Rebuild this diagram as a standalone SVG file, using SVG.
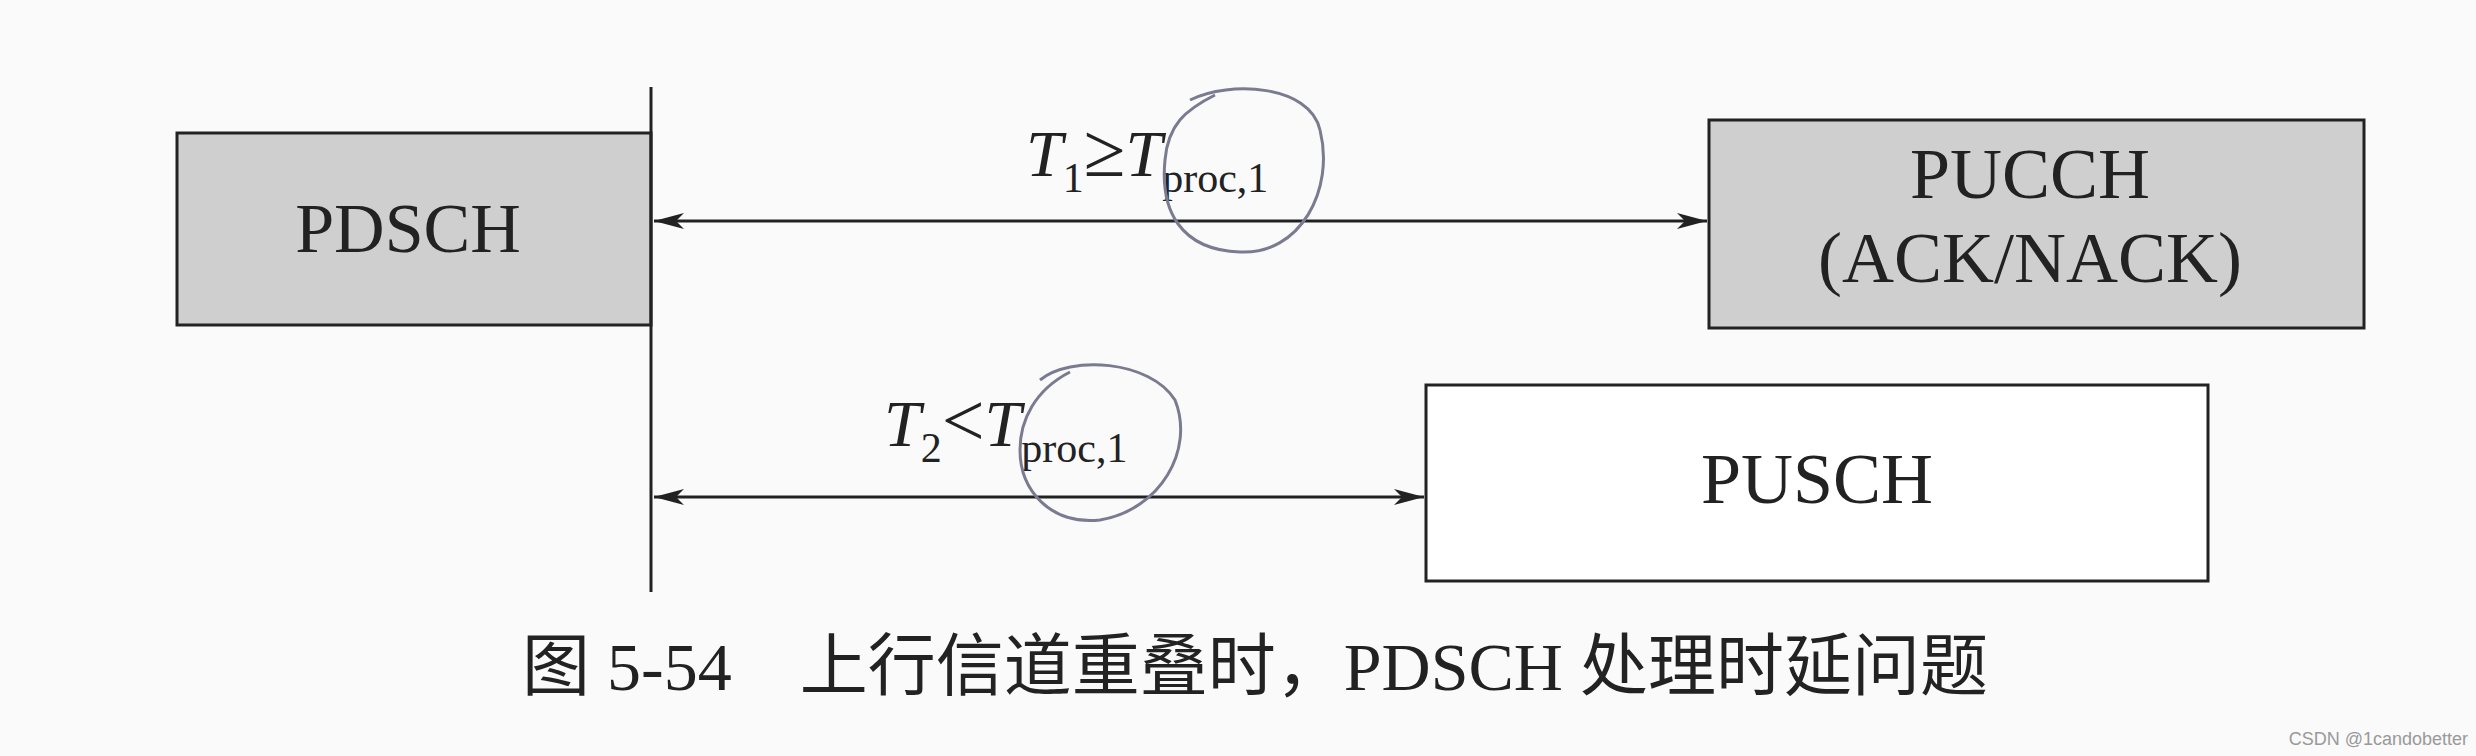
<svg xmlns="http://www.w3.org/2000/svg" width="2476" height="756" viewBox="0 0 2476 756">
<style>
.t{font-family:"Liberation Serif","Noto Sans CJK SC",serif;fill:#222}
.box{stroke:#222;stroke-width:3}
.ln{stroke:#222;stroke-width:3;fill:none}
.circ{stroke:#7a7a90;stroke-width:3;fill:none}
</style>
<defs>
<marker id="ah" viewBox="0 0 30 16" refX="30" refY="8" markerWidth="30" markerHeight="16" markerUnits="userSpaceOnUse" orient="auto-start-reverse">
<path d="M0,0 L30,8 L0,16 L8,8 Z" fill="#222"/>
</marker>
</defs>
<rect width="2476" height="756" fill="#fafafa"/>
<g id="pdsch"><rect class="box" x="177" y="133" width="474" height="192" fill="#cfcfcf"/>
<text class="t" x="408" y="252" font-size="70" text-anchor="middle">PDSCH</text></g>
<g id="pucch"><rect class="box" x="1709" y="120" width="655" height="208" fill="#cfcfcf"/>
<text class="t" x="2030" y="198" font-size="72" text-anchor="middle">PUCCH</text>
<text class="t" x="2030" y="282" font-size="72" text-anchor="middle">(ACK/NACK)</text></g>
<g id="pusch"><rect class="box" x="1426" y="385" width="782" height="196" fill="#fff"/>
<text class="t" x="1817" y="503" font-size="72" text-anchor="middle">PUSCH</text></g>
<g id="connectors">
<line class="ln" x1="651" y1="87" x2="651" y2="592"/>
<line class="ln" x1="654" y1="221" x2="1707" y2="221" marker-start="url(#ah)" marker-end="url(#ah)"/>
<line class="ln" x1="654" y1="497" x2="1424" y2="497" marker-start="url(#ah)" marker-end="url(#ah)"/>
</g>
<g id="labels">
<text class="t" x="1026" y="176" font-size="66" font-style="italic">T<tspan font-size="42" font-style="normal" dy="16">1</tspan><tspan font-size="76" font-style="normal" dy="-16">≥</tspan>T<tspan font-size="42" font-style="normal" dy="16">proc,1</tspan></text>
<text class="t" x="884" y="446" font-size="66" font-style="italic">T<tspan font-size="42" font-style="normal" dy="16">2</tspan><tspan font-size="76" font-style="normal" dy="-16">&lt;</tspan>T<tspan font-size="42" font-style="normal" dy="16">proc,1</tspan></text>
<path class="circ" d="M1190,100 C1230,80 1310,85 1320,130 C1335,190 1300,255 1240,252 C1180,250 1160,210 1165,160 C1168,125 1185,110 1215,95"/>
<path class="circ" d="M1040,380 C1070,355 1150,360 1175,400 C1195,450 1160,510 1100,520 C1050,525 1020,490 1020,450 C1020,420 1035,390 1070,372"/>
<text class="t" x="1255" y="690" font-size="68" text-anchor="middle">图 5-54　上行信道重叠时，PDSCH 处理时延问题</text>
<text x="2468" y="745" font-size="18" text-anchor="end" fill="#999" font-family="Liberation Sans,sans-serif">CSDN @1candobetter</text>
</g>
</svg>
